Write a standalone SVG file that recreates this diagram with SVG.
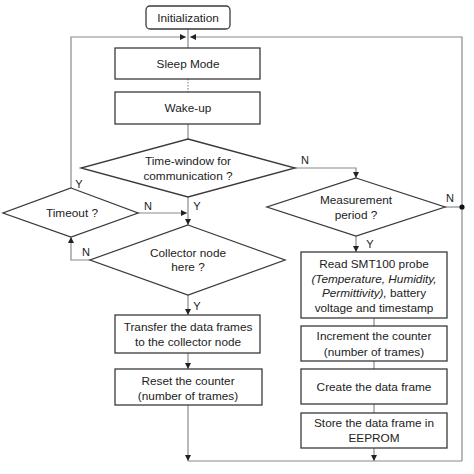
<svg xmlns="http://www.w3.org/2000/svg" width="474" height="474" viewBox="0 0 474 474">
<defs>
<marker id="ah" viewBox="0 0 6 6" refX="6" refY="3" markerWidth="6" markerHeight="6" markerUnits="userSpaceOnUse" orient="auto">
<path d="M0,0 L6,3 L0,6 Z" fill="#222"/>
</marker>
<style>
.box{fill:#fff;stroke:#3a3a3a;stroke-width:1.3}
.con{fill:none;stroke:#8a8a8a;stroke-width:1.2}
text{font-family:"Liberation Sans",Arial,sans-serif;font-size:11.8px;fill:#222;text-anchor:middle;dominant-baseline:central}
.lbl{font-size:11px}
</style>
</defs>
<rect width="474" height="474" fill="#fff"/>
<g id="connectors">
<path class="con" d="M188,29 V48"/>
<path class="con" d="M71,188 V37 H186" marker-end="url(#ah)"/>
<path class="con" d="M462,461 V37 H190" marker-end="url(#ah)"/>
<path class="con" d="M188,79 V92" stroke-dasharray="1.5,1.5"/>
<path class="con" d="M188,124 V139"/>
<path class="con" d="M295,168 H356 V178" marker-end="url(#ah)"/>
<path class="con" d="M445,207 H462"/>
<circle cx="462" cy="207" r="2.6" fill="#111"/>
<path class="con" d="M356,236 V252" marker-end="url(#ah)"/>
<path class="con" d="M188,197 V225" marker-end="url(#ah)"/>
<path class="con" d="M138,213 H187" marker-end="url(#ah)"/>
<path class="con" d="M90,260 H71 V237" marker-end="url(#ah)"/>
<path class="con" d="M188,295 V315" marker-end="url(#ah)"/>
<path class="con" d="M188,353 V369" marker-end="url(#ah)"/>
<path class="con" d="M188,405 V461" marker-end="url(#ah)"/>
<path class="con" d="M188,461 H462"/>
<path class="con" d="M374,318 V326"/>
<path class="con" d="M374,361 V369"/>
<path class="con" d="M374,404 V413"/>
<path class="con" d="M374,448 V461" marker-end="url(#ah)"/>
<text class="lbl" x="79" y="184">Y</text>
<text class="lbl" x="148" y="206">N</text>
<text class="lbl" x="197" y="206">Y</text>
<text class="lbl" x="86" y="252">N</text>
<text class="lbl" x="197" y="306">Y</text>
<text class="lbl" x="305" y="160">N</text>
<text class="lbl" x="450" y="198">N</text>
<text class="lbl" x="370" y="244">Y</text>
</g>
<g id="init">
<rect class="box" x="146" y="6" width="84" height="23" rx="4"/>
<text x="188" y="18">Initialization</text>
</g>
<g id="sleep">
<rect class="box" x="115" y="48" width="145" height="31"/>
<text x="188" y="63.5">Sleep Mode</text>
</g>
<g id="wake">
<rect class="box" x="115" y="92" width="145" height="32"/>
<text x="188" y="108">Wake-up</text>
</g>
<g id="timewindow">
<polygon class="box" points="188,139 295,168 188,197 81,168"/>
<text x="188" y="161">Time-window for</text>
<text x="188" y="176">communication ?</text>
</g>
<g id="timeout">
<polygon class="box" points="71,188 138,213 71,237 3,213"/>
<text x="72" y="213">Timeout ?</text>
</g>
<g id="collector">
<polygon class="box" points="188,225 285,260 188,295 90,260"/>
<text x="188" y="253">Collector node</text>
<text x="188" y="267">here ?</text>
</g>
<g id="measurement">
<polygon class="box" points="356,178 445,207 356,236 267,207"/>
<text x="356" y="200">Measurement</text>
<text x="356" y="215">period ?</text>
</g>
<g id="transfer">
<rect class="box" x="115" y="315" width="145" height="38"/>
<text x="188" y="327">Transfer the data frames</text>
<text x="188" y="342">to the collector node</text>
</g>
<g id="reset">
<rect class="box" x="115" y="369" width="147" height="36"/>
<text x="188" y="381">Reset the counter</text>
<text x="188" y="396">(number of trames)</text>
</g>
<g id="read">
<rect class="box" x="301" y="252" width="146" height="66"/>
<text x="374" y="264">Read SMT100 probe</text>
<text x="374" y="279" font-style="italic">(Temperature, Humidity,</text>
<text x="374" y="293"><tspan font-style="italic">Permittivity),</tspan> battery</text>
<text x="374" y="308">voltage and timestamp</text>
</g>
<g id="increment">
<rect class="box" x="301" y="326" width="146" height="35"/>
<text x="374" y="336">Increment the counter</text>
<text x="374" y="352">(number of trames)</text>
</g>
<g id="create">
<rect class="box" x="301" y="369" width="146" height="35"/>
<text x="374" y="387">Create the data frame</text>
</g>
<g id="store">
<rect class="box" x="301" y="413" width="146" height="35"/>
<text x="374" y="423">Store the data frame in</text>
<text x="374" y="438">EEPROM</text>
</g>
</svg>
